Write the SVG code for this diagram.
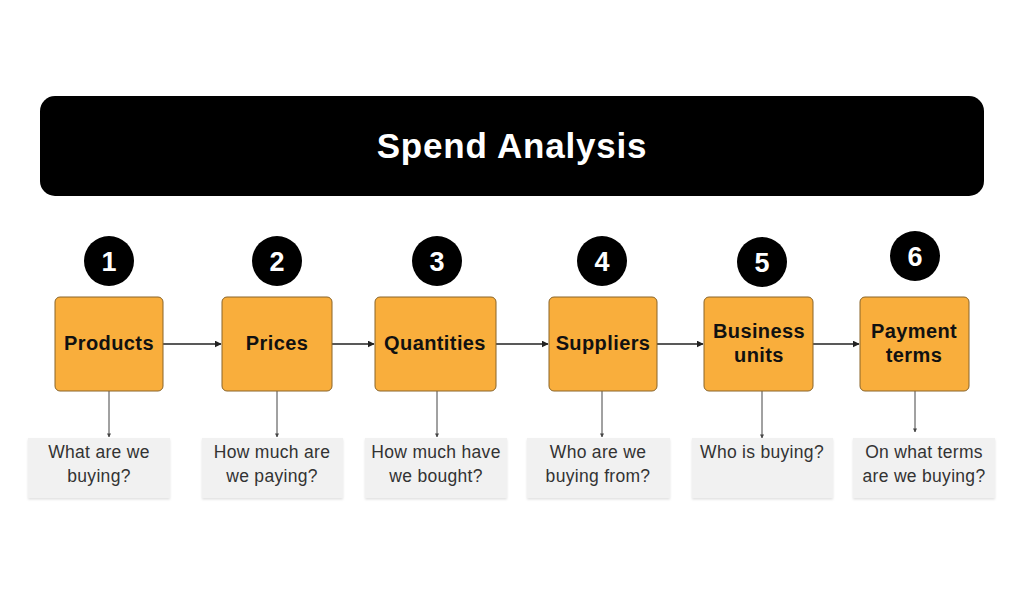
<svg xmlns="http://www.w3.org/2000/svg" width="1024" height="597" viewBox="0 0 1024 597">
<defs>
<marker id="ah" viewBox="0 0 10 10" refX="9" refY="5" markerWidth="7" markerHeight="7" markerUnits="userSpaceOnUse" orient="auto"><path d="M0,0 L10,5 L0,10 z" fill="#222"/></marker>
<marker id="ahs" viewBox="0 0 10 10" refX="9" refY="5" markerWidth="4" markerHeight="4" markerUnits="userSpaceOnUse" orient="auto"><path d="M0,0 L10,5 L0,10 z" fill="#444"/></marker>
<filter id="sh" x="-5%" y="-5%" width="110%" height="115%"><feDropShadow dx="0" dy="1.5" stdDeviation="1" flood-color="#000" flood-opacity="0.12"/></filter>
</defs>
<style>
.box{fill:#F9AE3C;stroke:#8a6428;stroke-width:1}
.lbl{font-family:"Liberation Sans",Arial,sans-serif;font-weight:bold;font-size:20px;fill:#111;text-anchor:middle;letter-spacing:0.4px}
.num{fill:#000}
.numt{font-family:"Liberation Sans",Arial,sans-serif;font-weight:bold;font-size:27px;fill:#fff;text-anchor:middle}
.q{fill:#f1f1f1;filter:url(#sh)}
.qt{font-family:"Liberation Sans",Arial,sans-serif;font-size:17.5px;fill:#333;text-anchor:middle;letter-spacing:0.3px}
.h{stroke:#222;stroke-width:1.6;fill:none}
.v{stroke:#444;stroke-width:1;fill:none}
</style>
<rect width="1024" height="597" fill="#fff"/>
<g id="title">
<rect x="40" y="96" width="944" height="100" rx="15" fill="#000"/>
<text x="512" y="158" font-family="'Liberation Sans',Arial,sans-serif" font-weight="bold" font-size="35" fill="#fff" text-anchor="middle" letter-spacing="0.8">Spend Analysis</text>
</g>
<g id="connectors">
<line class="h" x1="163" y1="344" x2="221" y2="344" marker-end="url(#ah)"/>
<line class="h" x1="332" y1="344" x2="374" y2="344" marker-end="url(#ah)"/>
<line class="h" x1="496" y1="344" x2="548" y2="344" marker-end="url(#ah)"/>
<line class="h" x1="657" y1="344" x2="703" y2="344" marker-end="url(#ah)"/>
<line class="h" x1="813" y1="344" x2="859" y2="344" marker-end="url(#ah)"/>
<line class="v" x1="109" y1="391" x2="109" y2="437" marker-end="url(#ahs)"/>
<line class="v" x1="277" y1="391" x2="277" y2="437" marker-end="url(#ahs)"/>
<line class="v" x1="437" y1="391" x2="437" y2="437" marker-end="url(#ahs)"/>
<line class="v" x1="602" y1="391" x2="602" y2="437" marker-end="url(#ahs)"/>
<line class="v" x1="762" y1="391" x2="762" y2="438" marker-end="url(#ahs)"/>
<line class="v" x1="915" y1="387" x2="915" y2="432" marker-end="url(#ahs)"/>
</g>
<g id="n1">
<circle class="num" cx="109" cy="261" r="25"/><text class="numt" x="109" y="271">1</text>
<rect class="box" x="55" y="297" width="108" height="94" rx="5"/>
<text class="lbl" x="109" y="350">Products</text>
<rect class="q" x="28" y="438" width="142" height="60"/>
<text class="qt" x="99" y="458">What are we</text><text class="qt" x="99" y="482">buying?</text>
</g>
<g id="n2">
<circle class="num" cx="277" cy="261" r="25"/><text class="numt" x="277" y="271">2</text>
<rect class="box" x="222" y="297" width="110" height="94" rx="5"/>
<text class="lbl" x="277" y="350">Prices</text>
<rect class="q" x="202" y="438" width="141" height="60"/>
<text class="qt" x="272" y="458">How much are</text><text class="qt" x="272" y="482">we paying?</text>
</g>
<g id="n3">
<circle class="num" cx="437" cy="261" r="25"/><text class="numt" x="437" y="271">3</text>
<rect class="box" x="375" y="297" width="121" height="94" rx="5"/>
<text class="lbl" x="435" y="350">Quantities</text>
<rect class="q" x="365" y="438" width="142" height="60"/>
<text class="qt" x="436" y="458">How much have</text><text class="qt" x="436" y="482">we bought?</text>
</g>
<g id="n4">
<circle class="num" cx="602" cy="261" r="25"/><text class="numt" x="602" y="271">4</text>
<rect class="box" x="549" y="297" width="108" height="94" rx="5"/>
<text class="lbl" x="603" y="350">Suppliers</text>
<rect class="q" x="527" y="438" width="143" height="60"/>
<text class="qt" x="598" y="458">Who are we</text><text class="qt" x="598" y="482">buying from?</text>
</g>
<g id="n5">
<circle class="num" cx="762" cy="262" r="25"/><text class="numt" x="762" y="272">5</text>
<rect class="box" x="704" y="297" width="109" height="94" rx="5"/>
<text class="lbl" x="759" y="338">Business</text><text class="lbl" x="759" y="362">units</text>
<rect class="q" x="692" y="438" width="141" height="60"/>
<text class="qt" x="762" y="458">Who is buying?</text>
</g>
<g id="n6">
<circle class="num" cx="915" cy="256" r="25"/><text class="numt" x="915" y="266">6</text>
<rect class="box" x="860" y="297" width="109" height="94" rx="5"/>
<text class="lbl" x="914" y="338">Payment</text><text class="lbl" x="914" y="362">terms</text>
<rect class="q" x="853" y="438" width="142" height="60"/>
<text class="qt" x="924" y="458">On what terms</text><text class="qt" x="924" y="482">are we buying?</text>
</g>
</svg>
